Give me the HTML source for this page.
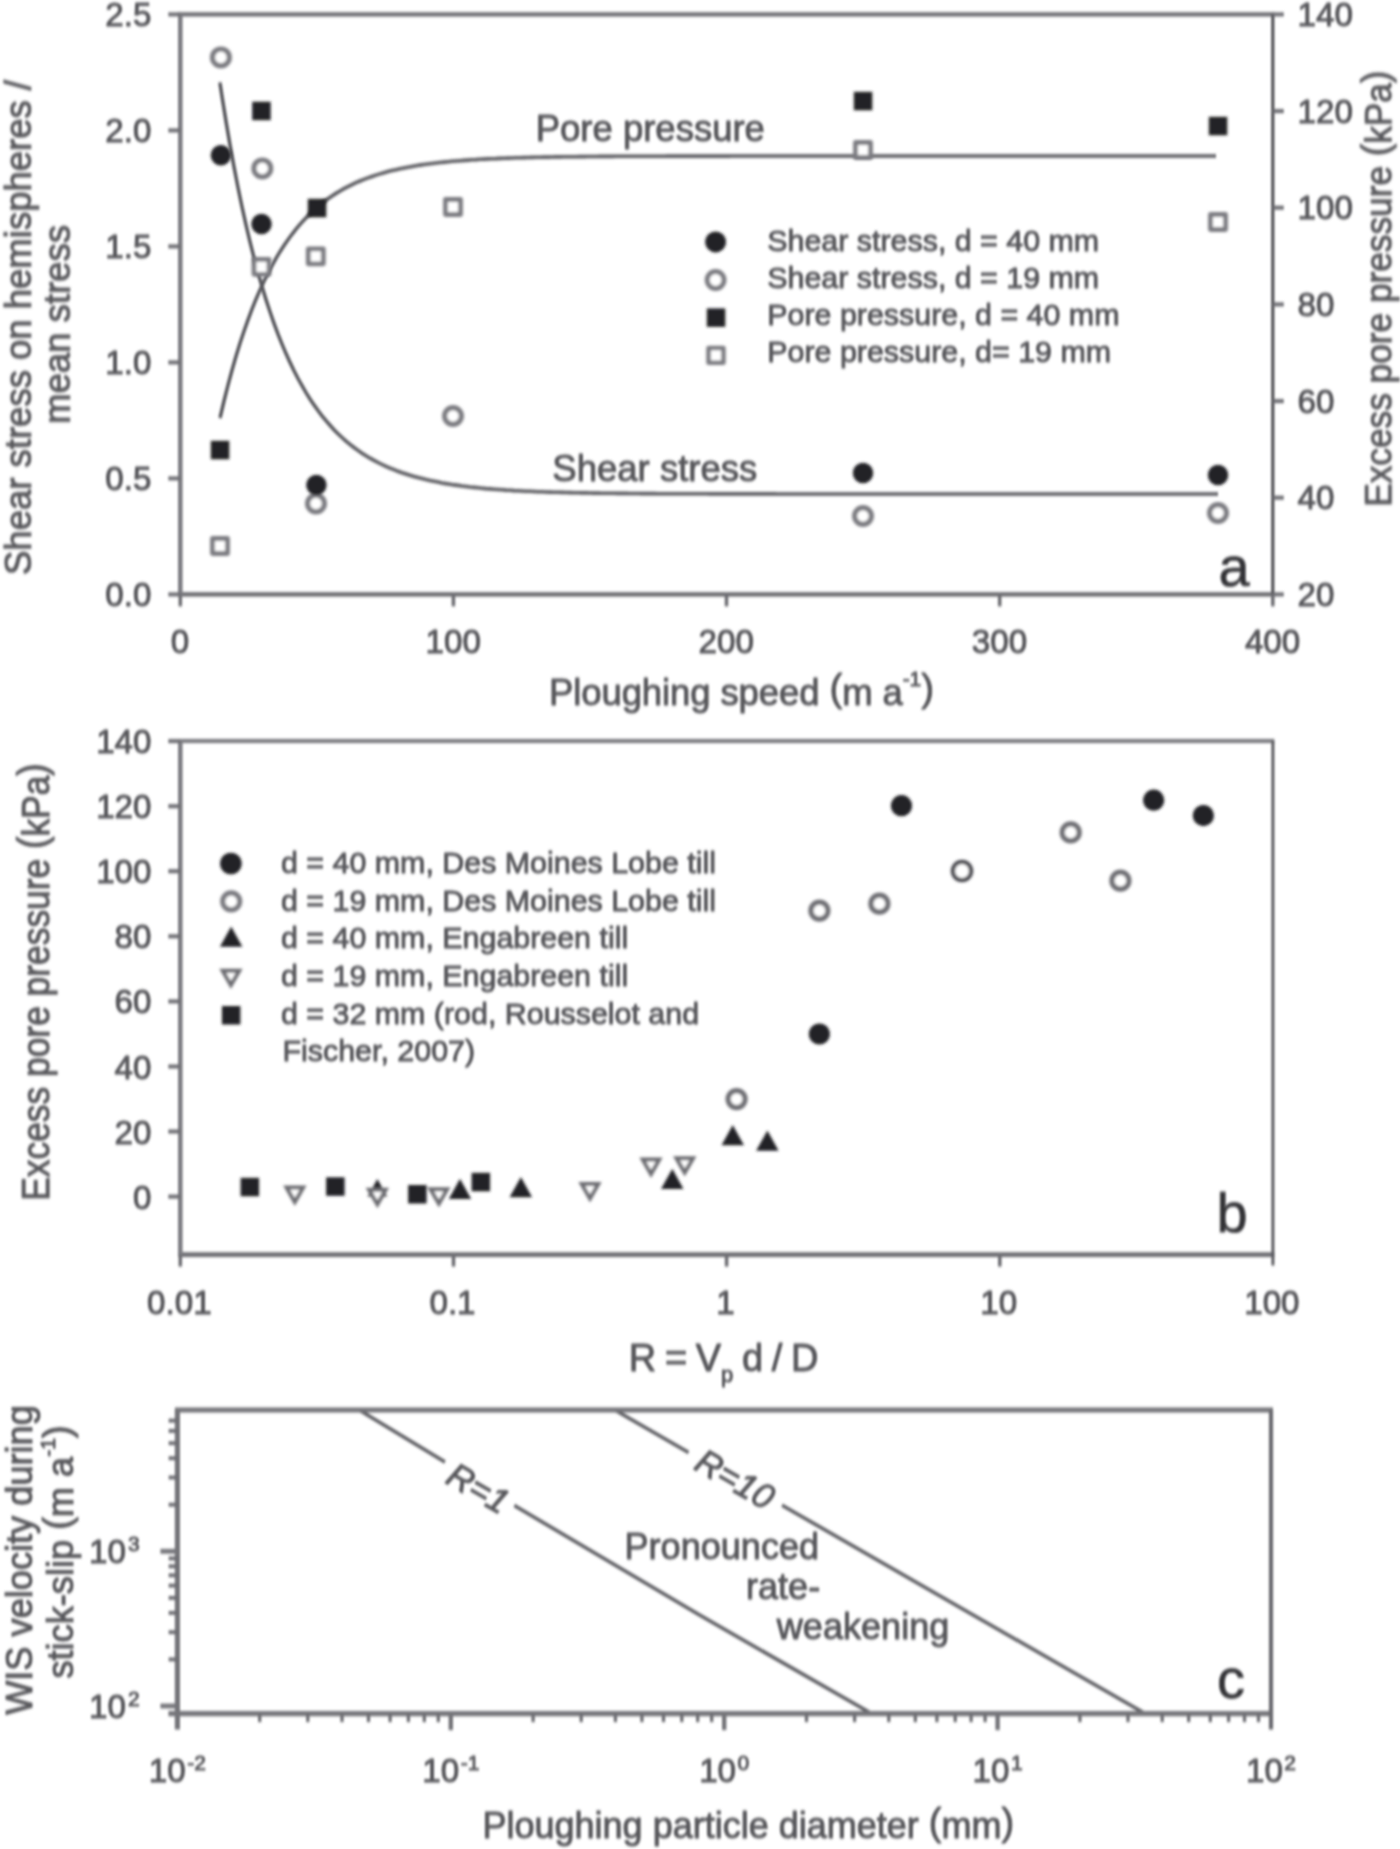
<!DOCTYPE html>
<html lang="en">
<head>
<meta charset="utf-8">
<title>Figure</title>
<style>
html,body{margin:0;padding:0;background:#fff;}
body{width:1400px;height:1849px;overflow:hidden;}
svg{display:block;font-family:"Liberation Sans",sans-serif;}
svg text{stroke:#58585c;stroke-width:1.0px;stroke-linejoin:round;}
</style>
</head>
<body>
<svg width="1400" height="1849" viewBox="0 0 1400 1849">
<defs>
<filter id="bl" x="0" y="0" width="1400" height="1849" filterUnits="userSpaceOnUse"><feGaussianBlur stdDeviation="0.85 1.45"/></filter>
<filter id="bm" x="0" y="0" width="1400" height="1849" filterUnits="userSpaceOnUse"><feGaussianBlur stdDeviation="1.35 1.6"/></filter>
<filter id="bt" x="0" y="0" width="1400" height="1849" filterUnits="userSpaceOnUse"><feGaussianBlur stdDeviation="1.2 1.45"/></filter>
</defs>
<rect width="1400" height="1849" fill="#fff"/>
<g id="lines" filter="url(#bl)">
<polyline points="220.0,418.0 224.0,401.0 228.0,385.1 232.0,370.2 236.0,356.3 240.0,343.3 244.0,331.2 248.0,319.8 252.0,309.2 256.0,299.2 260.0,289.9 264.0,281.2 268.0,273.1 272.0,265.5 276.0,258.4 280.0,251.7 284.0,245.5 288.0,239.7 292.0,234.3 296.0,229.2 300.0,224.4 304.0,220.0 308.0,215.8 312.0,212.0 316.0,208.3 320.0,204.9 324.0,201.8 328.0,198.8 332.0,196.0 336.0,193.4 340.0,191.0 344.0,188.7 348.0,186.6 352.0,184.6 356.0,182.7 360.0,181.0 364.0,179.4 368.0,177.9 372.0,176.5 376.0,175.1 380.0,173.9 384.0,172.7 388.0,171.6 392.0,170.6 396.0,169.7 400.0,168.8 404.0,168.0 408.0,167.2 412.0,166.5 416.0,165.8 420.0,165.1 424.0,164.5 428.0,164.0 432.0,163.5 436.0,163.0 440.0,162.5 444.0,162.1 448.0,161.7 452.0,161.3 456.0,161.0 460.0,160.7 464.0,160.4 468.0,160.1 472.0,159.8 476.0,159.6 480.0,159.3 484.0,159.1 488.0,158.9 492.0,158.7 496.0,158.6 500.0,158.4 504.0,158.2 508.0,158.1 512.0,158.0 516.0,157.8 520.0,157.7 524.0,157.6 528.0,157.5 532.0,157.4 536.0,157.3 540.0,157.2 544.0,157.1 548.0,157.1 552.0,157.0 556.0,156.9 560.0,156.9 564.0,156.8 568.0,156.8 572.0,156.7 576.0,156.7 580.0,156.6 584.0,156.6 588.0,156.5 592.0,156.5 596.0,156.5 600.0,156.4 604.0,156.4 608.0,156.4 612.0,156.4 616.0,156.3 620.0,156.3 624.0,156.3 628.0,156.3 632.0,156.3 636.0,156.2 640.0,156.2 644.0,156.2 648.0,156.2 652.0,156.2 656.0,156.2 660.0,156.2 664.0,156.2 668.0,156.1 672.0,156.1 676.0,156.1 680.0,156.1 684.0,156.1 688.0,156.1 692.0,156.1 696.0,156.1 700.0,156.1 704.0,156.1 708.0,156.1 712.0,156.1 716.0,156.1 720.0,156.1 724.0,156.1 728.0,156.1 732.0,156.0 736.0,156.0 740.0,156.0 744.0,156.0 748.0,156.0 752.0,156.0 756.0,156.0 760.0,156.0 764.0,156.0 768.0,156.0 772.0,156.0 776.0,156.0 780.0,156.0 784.0,156.0 788.0,156.0 792.0,156.0 796.0,156.0 800.0,156.0 804.0,156.0 808.0,156.0 812.0,156.0 816.0,156.0 820.0,156.0 824.0,156.0 828.0,156.0 832.0,156.0 836.0,156.0 840.0,156.0 844.0,156.0 848.0,156.0 852.0,156.0 856.0,156.0 860.0,156.0 864.0,156.0 868.0,156.0 872.0,156.0 876.0,156.0 880.0,156.0 884.0,156.0 888.0,156.0 892.0,156.0 896.0,156.0 900.0,156.0 904.0,156.0 908.0,156.0 912.0,156.0 916.0,156.0 920.0,156.0 924.0,156.0 928.0,156.0 932.0,156.0 936.0,156.0 940.0,156.0 944.0,156.0 948.0,156.0 952.0,156.0 956.0,156.0 960.0,156.0 964.0,156.0 968.0,156.0 972.0,156.0 976.0,156.0 980.0,156.0 984.0,156.0 988.0,156.0 992.0,156.0 996.0,156.0 1000.0,156.0 1004.0,156.0 1008.0,156.0 1012.0,156.0 1016.0,156.0 1020.0,156.0 1024.0,156.0 1028.0,156.0 1032.0,156.0 1036.0,156.0 1040.0,156.0 1044.0,156.0 1048.0,156.0 1052.0,156.0 1056.0,156.0 1060.0,156.0 1064.0,156.0 1068.0,156.0 1072.0,156.0 1076.0,156.0 1080.0,156.0 1084.0,156.0 1088.0,156.0 1092.0,156.0 1096.0,156.0 1100.0,156.0 1104.0,156.0 1108.0,156.0 1112.0,156.0 1116.0,156.0 1120.0,156.0 1124.0,156.0 1128.0,156.0 1132.0,156.0 1136.0,156.0 1140.0,156.0 1144.0,156.0 1148.0,156.0 1152.0,156.0 1156.0,156.0 1160.0,156.0 1164.0,156.0 1168.0,156.0 1172.0,156.0 1176.0,156.0 1180.0,156.0 1184.0,156.0 1188.0,156.0 1192.0,156.0 1196.0,156.0 1200.0,156.0 1204.0,156.0 1208.0,156.0 1212.0,156.0 1216.0,156.0" fill="none" stroke="#5a5a5f" stroke-width="3.6"/>
<polyline points="219.9,82.6 222.0,96.4 226.0,121.4 230.0,144.9 234.0,166.9 238.0,187.5 242.0,206.8 246.0,224.9 250.0,241.8 254.0,257.7 258.0,272.6 262.0,286.5 266.0,299.6 270.0,311.8 274.0,323.3 278.0,334.1 282.0,344.1 286.0,353.6 290.0,362.4 294.0,370.7 298.0,378.5 302.0,385.7 306.0,392.6 310.0,398.9 314.0,404.9 318.0,410.5 322.0,415.8 326.0,420.7 330.0,425.3 334.0,429.7 338.0,433.7 342.0,437.5 346.0,441.1 350.0,444.4 354.0,447.5 358.0,450.4 362.0,453.2 366.0,455.8 370.0,458.2 374.0,460.4 378.0,462.5 382.0,464.5 386.0,466.4 390.0,468.1 394.0,469.7 398.0,471.3 402.0,472.7 406.0,474.0 410.0,475.3 414.0,476.5 418.0,477.6 422.0,478.6 426.0,479.6 430.0,480.5 434.0,481.3 438.0,482.1 442.0,482.9 446.0,483.6 450.0,484.2 454.0,484.9 458.0,485.4 462.0,486.0 466.0,486.5 470.0,487.0 474.0,487.4 478.0,487.8 482.0,488.2 486.0,488.6 490.0,488.9 494.0,489.2 498.0,489.5 502.0,489.8 506.0,490.1 510.0,490.3 514.0,490.6 518.0,490.8 522.0,491.0 526.0,491.2 530.0,491.3 534.0,491.5 538.0,491.7 542.0,491.8 546.0,492.0 550.0,492.1 554.0,492.2 558.0,492.3 562.0,492.4 566.0,492.5 570.0,492.6 574.0,492.7 578.0,492.8 582.0,492.9 586.0,492.9 590.0,493.0 594.0,493.1 598.0,493.1 602.0,493.2 606.0,493.2 610.0,493.3 614.0,493.3 618.0,493.4 622.0,493.4 626.0,493.4 630.0,493.5 634.0,493.5 638.0,493.5 642.0,493.6 646.0,493.6 650.0,493.6 654.0,493.6 658.0,493.7 662.0,493.7 666.0,493.7 670.0,493.7 674.0,493.7 678.0,493.8 682.0,493.8 686.0,493.8 690.0,493.8 694.0,493.8 698.0,493.8 702.0,493.8 706.0,493.8 710.0,493.9 714.0,493.9 718.0,493.9 722.0,493.9 726.0,493.9 730.0,493.9 734.0,493.9 738.0,493.9 742.0,493.9 746.0,493.9 750.0,493.9 754.0,493.9 758.0,493.9 762.0,493.9 766.0,493.9 770.0,493.9 774.0,493.9 778.0,494.0 782.0,494.0 786.0,494.0 790.0,494.0 794.0,494.0 798.0,494.0 802.0,494.0 806.0,494.0 810.0,494.0 814.0,494.0 818.0,494.0 822.0,494.0 826.0,494.0 830.0,494.0 834.0,494.0 838.0,494.0 842.0,494.0 846.0,494.0 850.0,494.0 854.0,494.0 858.0,494.0 862.0,494.0 866.0,494.0 870.0,494.0 874.0,494.0 878.0,494.0 882.0,494.0 886.0,494.0 890.0,494.0 894.0,494.0 898.0,494.0 902.0,494.0 906.0,494.0 910.0,494.0 914.0,494.0 918.0,494.0 922.0,494.0 926.0,494.0 930.0,494.0 934.0,494.0 938.0,494.0 942.0,494.0 946.0,494.0 950.0,494.0 954.0,494.0 958.0,494.0 962.0,494.0 966.0,494.0 970.0,494.0 974.0,494.0 978.0,494.0 982.0,494.0 986.0,494.0 990.0,494.0 994.0,494.0 998.0,494.0 1002.0,494.0 1006.0,494.0 1010.0,494.0 1014.0,494.0 1018.0,494.0 1022.0,494.0 1026.0,494.0 1030.0,494.0 1034.0,494.0 1038.0,494.0 1042.0,494.0 1046.0,494.0 1050.0,494.0 1054.0,494.0 1058.0,494.0 1062.0,494.0 1066.0,494.0 1070.0,494.0 1074.0,494.0 1078.0,494.0 1082.0,494.0 1086.0,494.0 1090.0,494.0 1094.0,494.0 1098.0,494.0 1102.0,494.0 1106.0,494.0 1110.0,494.0 1114.0,494.0 1118.0,494.0 1122.0,494.0 1126.0,494.0 1130.0,494.0 1134.0,494.0 1138.0,494.0 1142.0,494.0 1146.0,494.0 1150.0,494.0 1154.0,494.0 1158.0,494.0 1162.0,494.0 1166.0,494.0 1170.0,494.0 1174.0,494.0 1178.0,494.0 1182.0,494.0 1186.0,494.0 1190.0,494.0 1194.0,494.0 1198.0,494.0 1202.0,494.0 1206.0,494.0 1210.0,494.0 1214.0,494.0 1218.0,494.0" fill="none" stroke="#5a5a5f" stroke-width="3.6"/>
<line x1="178.1" y1="14.4" x2="1274.4" y2="14.4" stroke="#6c6c71" stroke-width="4.3"/>
<line x1="178.1" y1="594.4" x2="1274.4" y2="594.4" stroke="#66666b" stroke-width="4.2"/>
<line x1="180.3" y1="14.4" x2="180.3" y2="594.4" stroke="#7e7e83" stroke-width="4.6"/>
<line x1="1272.8" y1="14.4" x2="1272.8" y2="594.4" stroke="#525257" stroke-width="3.2"/>
<line x1="168.3" y1="594.4" x2="180.3" y2="594.4" stroke="#6c6c71" stroke-width="4.0"/>
<line x1="168.3" y1="478.4" x2="180.3" y2="478.4" stroke="#6c6c71" stroke-width="4.0"/>
<line x1="168.3" y1="362.4" x2="180.3" y2="362.4" stroke="#6c6c71" stroke-width="4.0"/>
<line x1="168.3" y1="246.4" x2="180.3" y2="246.4" stroke="#6c6c71" stroke-width="4.0"/>
<line x1="168.3" y1="130.4" x2="180.3" y2="130.4" stroke="#6c6c71" stroke-width="4.0"/>
<line x1="168.3" y1="14.4" x2="180.3" y2="14.4" stroke="#6c6c71" stroke-width="4.0"/>
<line x1="1272.8" y1="594.4" x2="1283.8" y2="594.4" stroke="#6c6c71" stroke-width="4.0"/>
<line x1="1272.8" y1="497.7" x2="1283.8" y2="497.7" stroke="#6c6c71" stroke-width="4.0"/>
<line x1="1272.8" y1="401.1" x2="1283.8" y2="401.1" stroke="#6c6c71" stroke-width="4.0"/>
<line x1="1272.8" y1="304.4" x2="1283.8" y2="304.4" stroke="#6c6c71" stroke-width="4.0"/>
<line x1="1272.8" y1="207.7" x2="1283.8" y2="207.7" stroke="#6c6c71" stroke-width="4.0"/>
<line x1="1272.8" y1="111.1" x2="1283.8" y2="111.1" stroke="#6c6c71" stroke-width="4.0"/>
<line x1="1272.8" y1="14.4" x2="1283.8" y2="14.4" stroke="#6c6c71" stroke-width="4.0"/>
<line x1="180.3" y1="594.4" x2="180.3" y2="606.4" stroke="#707075" stroke-width="3.6"/>
<line x1="453.4" y1="594.4" x2="453.4" y2="606.4" stroke="#707075" stroke-width="3.6"/>
<line x1="726.5" y1="594.4" x2="726.5" y2="606.4" stroke="#707075" stroke-width="3.6"/>
<line x1="999.7" y1="594.4" x2="999.7" y2="606.4" stroke="#707075" stroke-width="3.6"/>
<line x1="1272.8" y1="594.4" x2="1272.8" y2="606.4" stroke="#707075" stroke-width="3.6"/>
<line x1="178.1" y1="741.1" x2="1274.4" y2="741.1" stroke="#77777c" stroke-width="4.0"/>
<line x1="178.1" y1="1254.6" x2="1274.4" y2="1254.6" stroke="#6c6c71" stroke-width="4.6"/>
<line x1="180.3" y1="741.1" x2="180.3" y2="1254.6" stroke="#7e7e83" stroke-width="4.6"/>
<line x1="1272.9" y1="741.1" x2="1272.9" y2="1265.6" stroke="#5c5c61" stroke-width="3.0"/>
<line x1="168.3" y1="1196.6" x2="180.3" y2="1196.6" stroke="#6c6c71" stroke-width="4.0"/>
<line x1="168.3" y1="1131.5" x2="180.3" y2="1131.5" stroke="#6c6c71" stroke-width="4.0"/>
<line x1="168.3" y1="1066.5" x2="180.3" y2="1066.5" stroke="#6c6c71" stroke-width="4.0"/>
<line x1="168.3" y1="1001.4" x2="180.3" y2="1001.4" stroke="#6c6c71" stroke-width="4.0"/>
<line x1="168.3" y1="936.3" x2="180.3" y2="936.3" stroke="#6c6c71" stroke-width="4.0"/>
<line x1="168.3" y1="871.2" x2="180.3" y2="871.2" stroke="#6c6c71" stroke-width="4.0"/>
<line x1="168.3" y1="806.2" x2="180.3" y2="806.2" stroke="#6c6c71" stroke-width="4.0"/>
<line x1="168.3" y1="741.1" x2="180.3" y2="741.1" stroke="#6c6c71" stroke-width="4.0"/>
<line x1="180.3" y1="1254.6" x2="180.3" y2="1266.6" stroke="#707075" stroke-width="3.6"/>
<line x1="453.5" y1="1254.6" x2="453.5" y2="1266.6" stroke="#707075" stroke-width="3.6"/>
<line x1="726.6" y1="1254.6" x2="726.6" y2="1266.6" stroke="#707075" stroke-width="3.6"/>
<line x1="999.8" y1="1254.6" x2="999.8" y2="1266.6" stroke="#707075" stroke-width="3.6"/>
<polyline points="360.0,1410.4 445.0,1462.0" fill="none" stroke="#5c5c61" stroke-width="3.5"/>
<polyline points="514.3,1505.5 700.0,1615.3 869.7,1712.6" fill="none" stroke="#5c5c61" stroke-width="3.5"/>
<polyline points="615.7,1410.4 688.6,1452.6" fill="none" stroke="#5c5c61" stroke-width="3.5"/>
<polyline points="782.0,1505.2 1143.3,1712.6" fill="none" stroke="#5c5c61" stroke-width="3.5"/>
<line x1="174.9" y1="1410.0" x2="1273.0" y2="1410.0" stroke="#747479" stroke-width="5.2"/>
<line x1="168.4" y1="1713.6" x2="1273.0" y2="1713.6" stroke="#747479" stroke-width="5.4"/>
<line x1="177.4" y1="1410.0" x2="177.4" y2="1729.6" stroke="#747479" stroke-width="5.2"/>
<line x1="1271.0" y1="1410.0" x2="1271.0" y2="1729.6" stroke="#6c6c71" stroke-width="4.2"/>
<line x1="259.7" y1="1713.6" x2="259.7" y2="1722.1" stroke="#707075" stroke-width="3.4"/>
<line x1="307.8" y1="1713.6" x2="307.8" y2="1722.1" stroke="#707075" stroke-width="3.4"/>
<line x1="342.0" y1="1713.6" x2="342.0" y2="1722.1" stroke="#707075" stroke-width="3.4"/>
<line x1="368.5" y1="1713.6" x2="368.5" y2="1722.1" stroke="#707075" stroke-width="3.4"/>
<line x1="390.1" y1="1713.6" x2="390.1" y2="1722.1" stroke="#707075" stroke-width="3.4"/>
<line x1="408.4" y1="1713.6" x2="408.4" y2="1722.1" stroke="#707075" stroke-width="3.4"/>
<line x1="424.3" y1="1713.6" x2="424.3" y2="1722.1" stroke="#707075" stroke-width="3.4"/>
<line x1="438.3" y1="1713.6" x2="438.3" y2="1722.1" stroke="#707075" stroke-width="3.4"/>
<line x1="450.8" y1="1713.6" x2="450.8" y2="1730.1" stroke="#747479" stroke-width="4.4"/>
<line x1="533.1" y1="1713.6" x2="533.1" y2="1722.1" stroke="#707075" stroke-width="3.4"/>
<line x1="581.2" y1="1713.6" x2="581.2" y2="1722.1" stroke="#707075" stroke-width="3.4"/>
<line x1="615.4" y1="1713.6" x2="615.4" y2="1722.1" stroke="#707075" stroke-width="3.4"/>
<line x1="641.9" y1="1713.6" x2="641.9" y2="1722.1" stroke="#707075" stroke-width="3.4"/>
<line x1="663.5" y1="1713.6" x2="663.5" y2="1722.1" stroke="#707075" stroke-width="3.4"/>
<line x1="681.8" y1="1713.6" x2="681.8" y2="1722.1" stroke="#707075" stroke-width="3.4"/>
<line x1="697.7" y1="1713.6" x2="697.7" y2="1722.1" stroke="#707075" stroke-width="3.4"/>
<line x1="711.7" y1="1713.6" x2="711.7" y2="1722.1" stroke="#707075" stroke-width="3.4"/>
<line x1="724.2" y1="1713.6" x2="724.2" y2="1730.1" stroke="#747479" stroke-width="4.4"/>
<line x1="806.5" y1="1713.6" x2="806.5" y2="1722.1" stroke="#707075" stroke-width="3.4"/>
<line x1="854.6" y1="1713.6" x2="854.6" y2="1722.1" stroke="#707075" stroke-width="3.4"/>
<line x1="888.8" y1="1713.6" x2="888.8" y2="1722.1" stroke="#707075" stroke-width="3.4"/>
<line x1="915.3" y1="1713.6" x2="915.3" y2="1722.1" stroke="#707075" stroke-width="3.4"/>
<line x1="936.9" y1="1713.6" x2="936.9" y2="1722.1" stroke="#707075" stroke-width="3.4"/>
<line x1="955.2" y1="1713.6" x2="955.2" y2="1722.1" stroke="#707075" stroke-width="3.4"/>
<line x1="971.1" y1="1713.6" x2="971.1" y2="1722.1" stroke="#707075" stroke-width="3.4"/>
<line x1="985.1" y1="1713.6" x2="985.1" y2="1722.1" stroke="#707075" stroke-width="3.4"/>
<line x1="997.6" y1="1713.6" x2="997.6" y2="1730.1" stroke="#747479" stroke-width="4.4"/>
<line x1="1079.9" y1="1713.6" x2="1079.9" y2="1722.1" stroke="#707075" stroke-width="3.4"/>
<line x1="1128.0" y1="1713.6" x2="1128.0" y2="1722.1" stroke="#707075" stroke-width="3.4"/>
<line x1="1162.2" y1="1713.6" x2="1162.2" y2="1722.1" stroke="#707075" stroke-width="3.4"/>
<line x1="1188.7" y1="1713.6" x2="1188.7" y2="1722.1" stroke="#707075" stroke-width="3.4"/>
<line x1="1210.3" y1="1713.6" x2="1210.3" y2="1722.1" stroke="#707075" stroke-width="3.4"/>
<line x1="1228.6" y1="1713.6" x2="1228.6" y2="1722.1" stroke="#707075" stroke-width="3.4"/>
<line x1="1244.5" y1="1713.6" x2="1244.5" y2="1722.1" stroke="#707075" stroke-width="3.4"/>
<line x1="1258.5" y1="1713.6" x2="1258.5" y2="1722.1" stroke="#707075" stroke-width="3.4"/>
<line x1="160.4" y1="1706.0" x2="177.4" y2="1706.0" stroke="#747479" stroke-width="4.8"/>
<line x1="160.4" y1="1551.3" x2="177.4" y2="1551.3" stroke="#747479" stroke-width="4.8"/>
<line x1="168.6" y1="1659.4" x2="177.4" y2="1659.4" stroke="#6a6a6f" stroke-width="3.8"/>
<line x1="168.6" y1="1632.2" x2="177.4" y2="1632.2" stroke="#6a6a6f" stroke-width="3.8"/>
<line x1="168.6" y1="1612.9" x2="177.4" y2="1612.9" stroke="#6a6a6f" stroke-width="3.8"/>
<line x1="168.6" y1="1597.9" x2="177.4" y2="1597.9" stroke="#6a6a6f" stroke-width="3.8"/>
<line x1="168.6" y1="1585.6" x2="177.4" y2="1585.6" stroke="#6a6a6f" stroke-width="3.8"/>
<line x1="168.6" y1="1575.3" x2="177.4" y2="1575.3" stroke="#6a6a6f" stroke-width="3.8"/>
<line x1="168.6" y1="1566.3" x2="177.4" y2="1566.3" stroke="#6a6a6f" stroke-width="3.8"/>
<line x1="168.6" y1="1558.4" x2="177.4" y2="1558.4" stroke="#6a6a6f" stroke-width="3.8"/>
<line x1="168.6" y1="1504.7" x2="177.4" y2="1504.7" stroke="#6a6a6f" stroke-width="3.8"/>
<line x1="168.6" y1="1477.5" x2="177.4" y2="1477.5" stroke="#6a6a6f" stroke-width="3.8"/>
<line x1="168.6" y1="1458.2" x2="177.4" y2="1458.2" stroke="#6a6a6f" stroke-width="3.8"/>
<line x1="168.6" y1="1443.2" x2="177.4" y2="1443.2" stroke="#6a6a6f" stroke-width="3.8"/>
<line x1="168.6" y1="1430.9" x2="177.4" y2="1430.9" stroke="#6a6a6f" stroke-width="3.8"/>
<line x1="168.6" y1="1420.6" x2="177.4" y2="1420.6" stroke="#6a6a6f" stroke-width="3.8"/>
</g>
<g id="markers" filter="url(#bm)">
<circle cx="220.9" cy="57.4" r="8.4" fill="#fff" stroke="#7c7c81" stroke-width="5.2"/>
<circle cx="262.3" cy="168.4" r="8.4" fill="#fff" stroke="#7c7c81" stroke-width="5.2"/>
<circle cx="316.0" cy="503.5" r="8.4" fill="#fff" stroke="#7c7c81" stroke-width="5.2"/>
<circle cx="453.0" cy="416.0" r="8.4" fill="#fff" stroke="#7c7c81" stroke-width="5.2"/>
<circle cx="863.0" cy="516.0" r="8.4" fill="#fff" stroke="#7c7c81" stroke-width="5.2"/>
<circle cx="1218.0" cy="513.0" r="8.4" fill="#fff" stroke="#7c7c81" stroke-width="5.2"/>
<circle cx="220.9" cy="155.3" r="10.25" fill="#222226"/>
<circle cx="261.5" cy="223.9" r="10.25" fill="#222226"/>
<circle cx="316.4" cy="484.9" r="10.25" fill="#222226"/>
<circle cx="863.0" cy="473.0" r="10.25" fill="#222226"/>
<circle cx="1218.0" cy="475.0" r="10.25" fill="#222226"/>
<rect x="210.8" y="440.8" width="18.5" height="18.5" fill="#222226"/>
<rect x="252.2" y="101.7" width="18.5" height="18.5" fill="#222226"/>
<rect x="307.8" y="198.8" width="18.5" height="18.5" fill="#222226"/>
<rect x="853.8" y="91.8" width="18.5" height="18.5" fill="#222226"/>
<rect x="1208.8" y="116.8" width="18.5" height="18.5" fill="#222226"/>
<rect x="212.5" y="538.5" width="15.0" height="15.0" fill="#fff" stroke="#7c7c81" stroke-width="4.8" stroke-linejoin="round"/>
<rect x="254.0" y="259.3" width="15.0" height="15.0" fill="#fff" stroke="#7c7c81" stroke-width="4.8" stroke-linejoin="round"/>
<rect x="308.3" y="248.8" width="15.0" height="15.0" fill="#fff" stroke="#7c7c81" stroke-width="4.8" stroke-linejoin="round"/>
<rect x="445.5" y="199.5" width="15.0" height="15.0" fill="#fff" stroke="#7c7c81" stroke-width="4.8" stroke-linejoin="round"/>
<rect x="855.5" y="142.5" width="15.0" height="15.0" fill="#fff" stroke="#7c7c81" stroke-width="4.8" stroke-linejoin="round"/>
<rect x="1210.5" y="214.5" width="15.0" height="15.0" fill="#fff" stroke="#7c7c81" stroke-width="4.8" stroke-linejoin="round"/>
<circle cx="715.6" cy="241.9" r="10.5" fill="#222226"/>
<circle cx="715.6" cy="280.0" r="8.4" fill="#fff" stroke="#7c7c81" stroke-width="5.0"/>
<rect x="706.8" y="308.4" width="18.5" height="18.5" fill="#222226"/>
<rect x="708.6" y="348.0" width="14.8" height="14.8" fill="#fff" stroke="#7c7c81" stroke-width="4.6" stroke-linejoin="round"/>
<circle cx="901.5" cy="805.7" r="10.6" fill="#222226"/>
<circle cx="819.4" cy="1034.0" r="10.6" fill="#222226"/>
<circle cx="1153.7" cy="800.2" r="10.6" fill="#222226"/>
<circle cx="1203.4" cy="815.6" r="10.6" fill="#222226"/>
<circle cx="819.4" cy="910.6" r="8.5" fill="#fff" stroke="#707075" stroke-width="5.2"/>
<circle cx="879.4" cy="903.7" r="8.5" fill="#fff" stroke="#707075" stroke-width="5.2"/>
<circle cx="1070.7" cy="832.4" r="8.5" fill="#fff" stroke="#707075" stroke-width="5.2"/>
<circle cx="1120.4" cy="880.7" r="8.5" fill="#fff" stroke="#707075" stroke-width="5.2"/>
<circle cx="736.6" cy="1099.1" r="8.5" fill="#fff" stroke="#707075" stroke-width="5.2"/>
<circle cx="962.0" cy="871.0" r="9.1" fill="#fff" stroke="#4a4a4f" stroke-width="4.3"/>
<rect x="240.6" y="1177.8" width="18.5" height="18.5" fill="#222226"/>
<rect x="326.1" y="1177.3" width="18.5" height="18.5" fill="#222226"/>
<rect x="408.1" y="1185.0" width="18.5" height="18.5" fill="#222226"/>
<rect x="471.6" y="1172.8" width="18.5" height="18.5" fill="#222226"/>
<polygon points="367.6,1196.6 387.1,1196.6 377.4,1179.0" fill="#222226"/>
<polygon points="286.6,1187.5 303.1,1187.5 294.8,1201.9" fill="#fff" stroke="#6c6c71" stroke-width="4.0" stroke-linejoin="miter"/>
<polygon points="369.1,1189.8 385.6,1189.8 377.4,1204.2" fill="#fff" stroke="#6c6c71" stroke-width="4.0" stroke-linejoin="miter"/>
<polygon points="430.6,1189.2 447.1,1189.2 438.9,1203.6" fill="#fff" stroke="#6c6c71" stroke-width="4.0" stroke-linejoin="miter"/>
<polygon points="581.8,1184.0 598.2,1184.0 590.0,1198.4" fill="#fff" stroke="#6c6c71" stroke-width="4.0" stroke-linejoin="miter"/>
<polygon points="642.8,1159.5 659.2,1159.5 651.0,1173.9" fill="#fff" stroke="#6c6c71" stroke-width="4.0" stroke-linejoin="miter"/>
<polygon points="676.5,1158.2 693.0,1158.2 684.7,1172.6" fill="#fff" stroke="#6c6c71" stroke-width="4.0" stroke-linejoin="miter"/>
<polygon points="448.8,1199.0 471.2,1199.0 460.0,1178.8" fill="#222226"/>
<polygon points="509.6,1197.3 532.1,1197.3 520.9,1177.1" fill="#222226"/>
<polygon points="661.0,1189.0 683.5,1189.0 672.3,1168.8" fill="#222226"/>
<polygon points="721.5,1145.2 744.0,1145.2 732.7,1125.0" fill="#222226"/>
<polygon points="756.1,1150.8 778.6,1150.8 767.4,1130.6" fill="#222226"/>
<circle cx="230.9" cy="863.5" r="10.8" fill="#222226"/>
<circle cx="231.2" cy="901.3" r="8.5" fill="#fff" stroke="#7c7c81" stroke-width="5.2"/>
<polygon points="219.9,946.8 242.4,946.8 231.2,926.6" fill="#222226"/>
<polygon points="222.7,970.7 239.2,970.7 230.9,985.1" fill="#fff" stroke="#6c6c71" stroke-width="4.0" stroke-linejoin="miter"/>
<rect x="221.9" y="1006.0" width="18.5" height="18.5" fill="#222226"/>
</g>
<g id="labels" filter="url(#bt)">
<text x="151.5" y="605.8" font-size="33.2" text-anchor="end" fill="#58585c" >0.0</text>
<text x="151.5" y="489.8" font-size="33.2" text-anchor="end" fill="#58585c" >0.5</text>
<text x="151.5" y="373.8" font-size="33.2" text-anchor="end" fill="#58585c" >1.0</text>
<text x="151.5" y="257.8" font-size="33.2" text-anchor="end" fill="#58585c" >1.5</text>
<text x="151.5" y="141.8" font-size="33.2" text-anchor="end" fill="#58585c" >2.0</text>
<text x="151.5" y="25.8" font-size="33.2" text-anchor="end" fill="#58585c" >2.5</text>
<text x="1297.5" y="605.8" font-size="33.2" text-anchor="start" fill="#58585c" >20</text>
<text x="1297.5" y="509.1" font-size="33.2" text-anchor="start" fill="#58585c" >40</text>
<text x="1297.5" y="412.5" font-size="33.2" text-anchor="start" fill="#58585c" >60</text>
<text x="1297.5" y="315.8" font-size="33.2" text-anchor="start" fill="#58585c" >80</text>
<text x="1297.5" y="219.1" font-size="33.2" text-anchor="start" fill="#58585c" >100</text>
<text x="1297.5" y="122.5" font-size="33.2" text-anchor="start" fill="#58585c" >120</text>
<text x="1297.5" y="25.8" font-size="33.2" text-anchor="start" fill="#58585c" >140</text>
<text x="180.1" y="652.6" font-size="33.2" text-anchor="middle" fill="#58585c" >0</text>
<text x="453.2" y="652.6" font-size="33.2" text-anchor="middle" fill="#58585c" >100</text>
<text x="726.3" y="652.6" font-size="33.2" text-anchor="middle" fill="#58585c" >200</text>
<text x="999.5" y="652.6" font-size="33.2" text-anchor="middle" fill="#58585c" >300</text>
<text x="1272.6" y="652.6" font-size="33.2" text-anchor="middle" fill="#58585c" >400</text>
<text x="549.0" y="704.5" font-size="36.5" text-anchor="start" fill="#58585c" textLength="385" lengthAdjust="spacing">Ploughing speed <tspan dy="-3.2" font-size="38.5">(</tspan><tspan dy="3.2">m a</tspan><tspan dy="-18.5" font-size="21">-1</tspan><tspan dy="15.3" font-size="38.5">)</tspan></text>
<text transform="translate(30.8,327.5) rotate(-90)" font-size="36.5" text-anchor="middle" fill="#58585c" >Shear stress on hemispheres /</text>
<text transform="translate(69.7,324.4) rotate(-90)" font-size="36.5" text-anchor="middle" fill="#58585c" >mean stress</text>
<text transform="translate(1391.3,288.7) rotate(-90)" font-size="37.5" text-anchor="middle" fill="#58585c" textLength="436" lengthAdjust="spacingAndGlyphs">Excess pore pressure <tspan dy="-3.2" font-size="39.5">(</tspan><tspan dy="3.2">kPa</tspan><tspan dy="-3.2" font-size="39.5">)</tspan></text>
<text x="650.3" y="141.0" font-size="36.5" text-anchor="middle" fill="#58585c" >Pore pressure</text>
<text x="654.8" y="481.4" font-size="36.5" text-anchor="middle" fill="#58585c" >Shear stress</text>
<text x="767.3" y="250.8" font-size="30.4" text-anchor="start" fill="#58585c" >Shear stress, d = 40 mm</text>
<text x="767.3" y="288.2" font-size="30.4" text-anchor="start" fill="#58585c" >Shear stress, d = 19 mm</text>
<text x="767.3" y="325.4" font-size="30.4" text-anchor="start" fill="#58585c" >Pore pressure, d = 40 mm</text>
<text x="767.3" y="362.4" font-size="30.4" text-anchor="start" fill="#58585c" >Pore pressure, d= 19 mm</text>
<text x="1234.0" y="586.0" font-size="56" text-anchor="middle" fill="#303034" stroke="#303034">a</text>
<text x="151.5" y="1208.6" font-size="33.2" text-anchor="end" fill="#58585c" >0</text>
<text x="151.5" y="1143.5" font-size="33.2" text-anchor="end" fill="#58585c" >20</text>
<text x="151.5" y="1078.5" font-size="33.2" text-anchor="end" fill="#58585c" >40</text>
<text x="151.5" y="1013.4" font-size="33.2" text-anchor="end" fill="#58585c" >60</text>
<text x="151.5" y="948.3" font-size="33.2" text-anchor="end" fill="#58585c" >80</text>
<text x="151.5" y="883.2" font-size="33.2" text-anchor="end" fill="#58585c" >100</text>
<text x="151.5" y="818.2" font-size="33.2" text-anchor="end" fill="#58585c" >120</text>
<text x="151.5" y="753.1" font-size="33.2" text-anchor="end" fill="#58585c" >140</text>
<text x="179.3" y="1314.0" font-size="33.2" text-anchor="middle" fill="#58585c" >0.01</text>
<text x="452.5" y="1314.0" font-size="33.2" text-anchor="middle" fill="#58585c" >0.1</text>
<text x="725.6" y="1314.0" font-size="33.2" text-anchor="middle" fill="#58585c" >1</text>
<text x="998.8" y="1314.0" font-size="33.2" text-anchor="middle" fill="#58585c" >10</text>
<text x="1271.9" y="1314.0" font-size="33.2" text-anchor="middle" fill="#58585c" >100</text>
<text x="628.8" y="1371.0" font-size="38" text-anchor="start" fill="#58585c" word-spacing="-1.9">R = V<tspan font-size="22" dy="11">p</tspan><tspan dy="-11"> d / D</tspan></text>
<text transform="translate(49.2,982.0) rotate(-90)" font-size="38" text-anchor="middle" fill="#58585c" textLength="437.5" lengthAdjust="spacingAndGlyphs">Excess pore pressure <tspan dy="-3.2" font-size="40.0">(</tspan><tspan dy="3.2">kPa</tspan><tspan dy="-3.2" font-size="40.0">)</tspan></text>
<text x="281.0" y="873.2" font-size="30.4" text-anchor="start" fill="#58585c" >d = 40 mm, Des Moines Lobe till</text>
<text x="281.0" y="911.0" font-size="30.4" text-anchor="start" fill="#58585c" >d = 19 mm, Des Moines Lobe till</text>
<text x="281.0" y="948.4" font-size="30.4" text-anchor="start" fill="#58585c" >d = 40 mm, Engabreen till</text>
<text x="281.0" y="986.2" font-size="30.4" text-anchor="start" fill="#58585c" >d = 19 mm, Engabreen till</text>
<text x="281.0" y="1024.0" font-size="30.4" text-anchor="start" fill="#58585c" >d = 32 mm (rod, Rousselot and</text>
<text x="282.5" y="1060.6" font-size="30.4" text-anchor="start" fill="#58585c" >Fischer, 2007)</text>
<text x="1232.0" y="1232.0" font-size="56" text-anchor="middle" fill="#303034" stroke="#303034">b</text>
<text x="177.4" y="1781.5" font-size="33.2" text-anchor="middle" fill="#58585c" >10<tspan font-size="21" dy="-12" dx="1.5">-2</tspan></text>
<text x="450.8" y="1781.5" font-size="33.2" text-anchor="middle" fill="#58585c" >10<tspan font-size="21" dy="-12" dx="1.5">-1</tspan></text>
<text x="724.2" y="1781.5" font-size="33.2" text-anchor="middle" fill="#58585c" >10<tspan font-size="21" dy="-12" dx="1.5">0</tspan></text>
<text x="997.6" y="1781.5" font-size="33.2" text-anchor="middle" fill="#58585c" >10<tspan font-size="21" dy="-12" dx="1.5">1</tspan></text>
<text x="1271.0" y="1781.5" font-size="33.2" text-anchor="middle" fill="#58585c" >10<tspan font-size="21" dy="-12" dx="1.5">2</tspan></text>
<text x="89.0" y="1718.0" font-size="33.2" text-anchor="start" fill="#58585c" >10<tspan font-size="21" dy="-12" dx="2">2</tspan></text>
<text x="89.0" y="1563.3" font-size="33.2" text-anchor="start" fill="#58585c" >10<tspan font-size="21" dy="-12" dx="2">3</tspan></text>
<text x="482.5" y="1838.0" font-size="36" text-anchor="start" fill="#58585c" >Ploughing particle diameter <tspan dy="-3.2" font-size="38.0">(</tspan><tspan dy="3.2">mm</tspan><tspan dy="-3.2" font-size="38.0">)</tspan></text>
<text transform="translate(32.3,1560.0) rotate(-90)" font-size="36.2" text-anchor="middle" fill="#58585c" >WIS velocity during</text>
<text transform="translate(73.2,1552.0) rotate(-90)" font-size="36.2" text-anchor="middle" fill="#58585c" >stick-slip <tspan dy="-3.2" font-size="38.2">(</tspan><tspan dy="3.2">m a</tspan><tspan dy="-18.5" font-size="21">-1</tspan><tspan dy="15.3" font-size="38.2">)</tspan></text>
<text transform="translate(478.3,1488.0) rotate(30)" font-size="35" text-anchor="middle" fill="#58585c" font-style="italic" dy="12.3">R=1</text>
<text transform="translate(735.2,1479.0) rotate(30)" font-size="35" text-anchor="middle" fill="#58585c" font-style="italic" dy="12.3">R=10</text>
<text x="624.5" y="1558.6" font-size="36.1" text-anchor="start" fill="#58585c" >Pronounced</text>
<text x="746.0" y="1599.3" font-size="36.1" text-anchor="start" fill="#58585c" >rate-</text>
<text x="776.8" y="1639.2" font-size="36.1" text-anchor="start" fill="#58585c" >weakening</text>
<text x="1231.0" y="1698.0" font-size="56" text-anchor="middle" fill="#303034" stroke="#303034">c</text>
</g>
</svg>
</body>
</html>
